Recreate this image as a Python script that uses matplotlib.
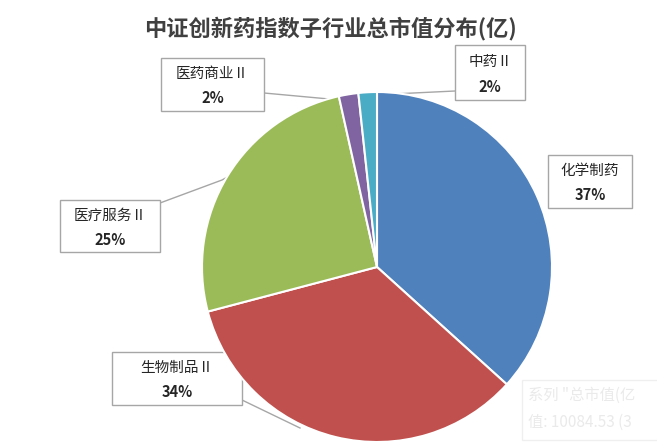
import matplotlib
matplotlib.use("Agg")
import matplotlib.pyplot as plt
from matplotlib.patches import Rectangle

plt.rcParams['font.family'] = ['Noto Sans CJK SC', 'DejaVu Sans']

categories = ['化学制药', '生物制品Ⅱ', '医疗服务Ⅱ', '医药商业Ⅱ', '中药Ⅱ']
values = [36.7, 34.2, 25.6, 1.8, 1.7]
pct_labels = ['37%', '34%', '25%', '2%', '2%']
colors = ['#4F81BD', '#C0504D', '#9BBB59', '#8064A2', '#4BACC6']

W, H = 657, 445
fig = plt.figure(figsize=(W/100, H/100), dpi=100)
ov = fig.add_axes([0, 0, 1, 1])
ov.set_xlim(0, W); ov.set_ylim(H, 0); ov.axis('off')

cx, cy, r = 377, 267, 175
ax = fig.add_axes([(cx-r)/W, (H-cy-r)/H, 2*r/W, 2*r/H])
ax.pie(values, colors=colors, startangle=90, counterclock=False,
       wedgeprops=dict(edgecolor='white', linewidth=1.5))
ax.set_xlim(-1, 1); ax.set_ylim(-1, 1); ax.set_aspect('auto'); ax.axis('off')

ov.text(330, 28, '中证创新药指数子行业总市值分布(亿)', ha='center', va='center',
        fontsize=16, fontweight='bold', color='#404040')

boxes = [(548, 155, 84, 53), (112, 352, 130, 53), (60, 200, 100, 52),
         (161, 58, 103, 53), (455, 45, 70, 55)]
lines = [None,
         [(242, 400), (300, 428)],
         [(160, 203), (222, 180), (240, 170)],
         [(264, 93), (340, 100)],
         [(455, 91), (372, 95)]]
for (x, y, w, h), name, p, ln in zip(boxes, categories, pct_labels, lines):
    ov.add_patch(Rectangle((x, y), w, h, facecolor='white', edgecolor='#A6A6A6', lw=1, zorder=3))
    ov.text(x+w/2, y+h*0.3, name, ha='center', va='center', fontsize=10.5, color='#262626', zorder=4)
    ov.text(x+w/2, y+h*0.76, p, ha='center', va='center', fontsize=10.5, fontweight='bold', color='#262626', zorder=4)
    if ln:
        xs, ys = zip(*ln)
        ov.plot(xs, ys, color='#A6A6A6', lw=1, zorder=2)

ov.add_patch(Rectangle((522, 380), 140, 60, facecolor='white', edgecolor='#EEEEEE', lw=1, alpha=0.9, zorder=5))
ov.text(528, 395, '系列 "总市值(亿', fontsize=11, color='#EAEAEA', va='center', zorder=6)
ov.text(528, 422, '值: 10084.53 (3', fontsize=11, color='#EAEAEA', va='center', zorder=6)

fig.savefig('out.png', dpi=100)
